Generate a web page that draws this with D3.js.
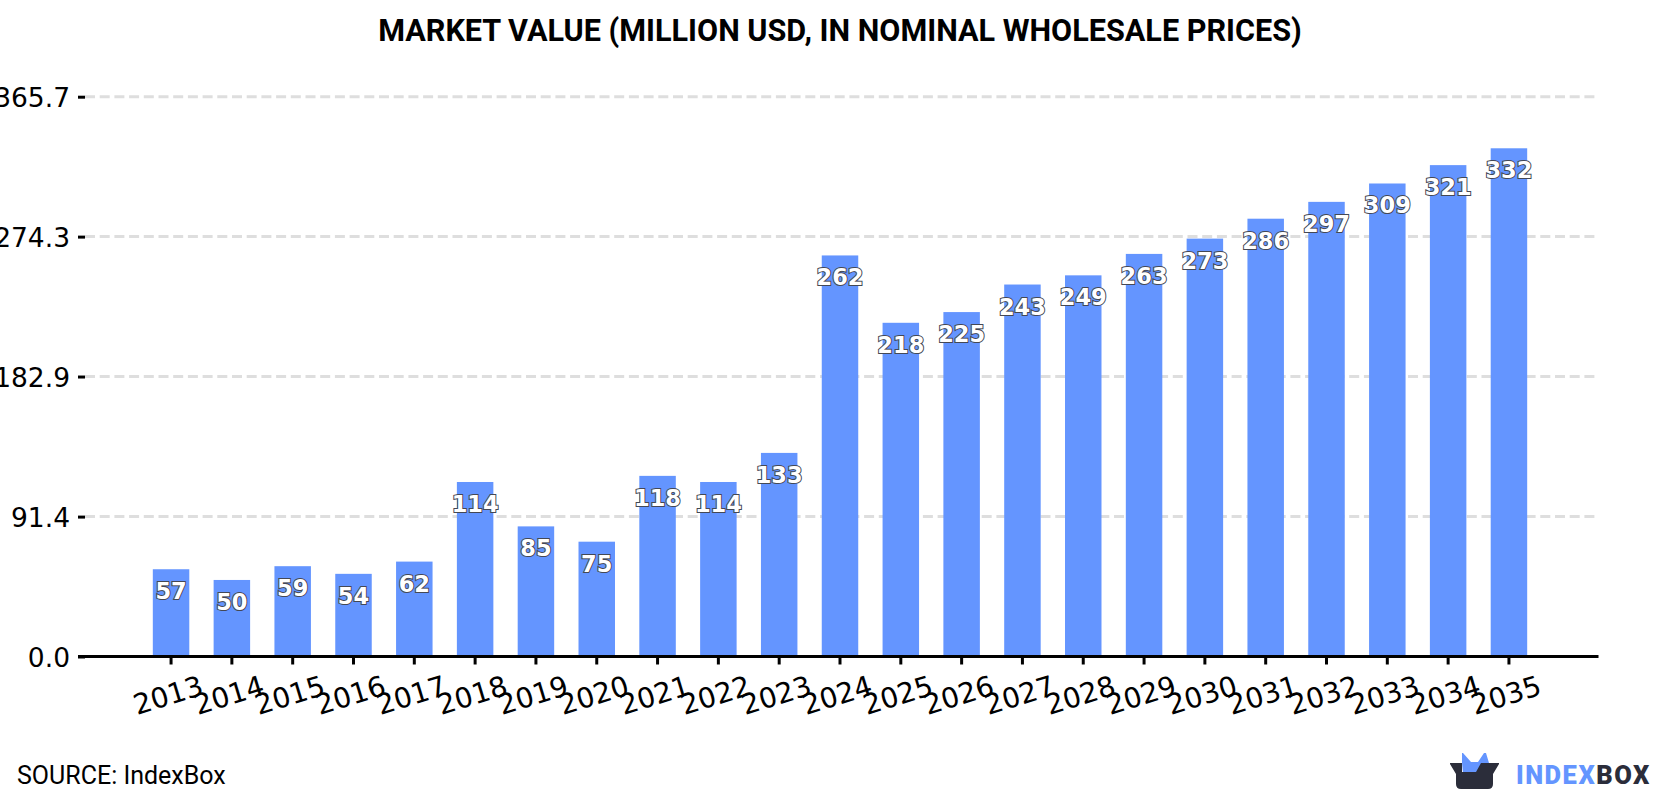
<!DOCTYPE html>
<html>
<head>
<meta charset="utf-8">
<script src="https://cdn.jsdelivr.net/npm/d3@7/dist/d3.min.js"></script>
<style>
html,body{margin:0;padding:0;background:#fff;overflow:hidden}
svg{display:block}
</style>
</head>
<body>
<svg id="chart" width="1680" height="800"></svg>
<script>
const years = ["2013","2014","2015","2016","2017","2018","2019","2020","2021","2022","2023","2024","2025","2026","2027","2028","2029","2030","2031","2032","2033","2034","2035"];
const marketValues = [57,50,59,54,62,114,85,75,118,114,133,262,218,225,243,249,263,273,286,297,309,321,332];
const yTicks = [0,91.4,182.9,274.3,365.7];
const titleText = "MARKET VALUE (MILLION USD, IN NOMINAL WHOLESALE PRICES)";
const sourceText = "SOURCE: IndexBox";

const svg = d3.select("#chart");
const axisLeftX = 78, axisRightX = 1598.5, baseY = 656.5, topY = 96.7;

const x = d3.scaleBand().domain(years).range([92, 1588]).paddingInner(0.4).paddingOuter(1);
const y = d3.scaleLinear().domain([0, 365.7]).range([baseY, topY]);

svg.append("text").attr("x", 840).attr("y", 41)
  .attr("text-anchor", "middle")
  .style("font", "700 30.6px Roboto").style("fill", "#000").text(titleText);

// Horizontal dashed gridlines, skipping the baseline
svg.append("g").selectAll("line").data(yTicks.slice(1)).join("line")
  .attr("x1", axisLeftX + 7).attr("x2", axisRightX)
  .attr("y1", d => y(d)).attr("y2", d => y(d))
  .attr("stroke", "#dedede").attr("stroke-width", 3).attr("stroke-dasharray", "10 4.7");

// Bars
svg.append("g").selectAll("rect").data(marketValues).join("rect")
  .attr("x", (d, i) => x(years[i]))
  .attr("width", x.bandwidth())
  .attr("y", d => y(d))
  .attr("height", d => baseY - y(d))
  .attr("fill", "#6495ff");

// Y axis
const yAxis = svg.append("g").attr("transform", `translate(${axisLeftX + 7},0)`)
  .call(d3.axisLeft(y).tickValues(yTicks).tickFormat(d3.format(".1f")).tickSize(7).tickPadding(8));
yAxis.select(".domain").remove();
yAxis.selectAll("line").attr("stroke", "#000").attr("stroke-width", 3);
yAxis.selectAll("text").style("font", "26.5px 'DejaVu Sans'").style("fill", "#000").attr("dy", "0.36em");

// X axis
const xAxis = svg.append("g").attr("transform", `translate(0,${baseY})`)
  .call(d3.axisBottom(x).tickSize(8).tickSizeOuter(0));
xAxis.select(".domain").remove();
xAxis.selectAll("line").attr("stroke", "#000").attr("stroke-width", 3);
xAxis.selectAll("text")
  .style("font", "28px 'DejaVu Sans'").style("fill", "#000")
  .attr("text-anchor", "middle")
  .attr("y", 0).attr("dy", 0)
  .attr("transform", "translate(0,48) rotate(-17)");
svg.append("line").attr("x1", axisLeftX).attr("x2", axisRightX)
  .attr("y1", baseY).attr("y2", baseY)
  .attr("stroke", "#000").attr("stroke-width", 3);

// Value labels inside the bars
svg.append("g").selectAll("text").data(marketValues).join("text")
  .attr("x", (d, i) => x(years[i]) + x.bandwidth() / 2)
  .attr("y", d => y(d) + 30)
  .attr("text-anchor", "middle")
  .style("font", "700 22.5px 'DejaVu Sans'")
  .style("fill", "#fff")
  .style("stroke", "#444854").style("stroke-width", 2).style("paint-order", "stroke")
  .text(d => d);

svg.append("text").attr("x", 17).attr("y", 784)
  .style("font", "25px Roboto").style("fill", "#000").text(sourceText);

// Brand mark: open box with a blue crown
const logo = svg.append("g").attr("transform", "translate(1450,753)");
logo.append("path").attr("fill", "#6495ff")
  .attr("d", "M12 0 L13 -0 L21 9 L28 9 L34 0 L36 0 L39 10 L39 20 L13 20 L12 10 Z");
logo.append("path").attr("fill", "#2b2d3a")
  .attr("d", "M0 10 L12 10 L12 19 L26 19 L31 10 L49 10 L49 11 L43 21 L43 31 Q43 36 38 36 L11 36 Q6 36 6 31 L6 21 L0 11 Z");
svg.append("text").attr("x", 1516).attr("y", 784)
  .style("font", "900 25.5px Roboto").style("letter-spacing", "1.5px")
  .call(t => {
    t.append("tspan").attr("fill", "#6495ff").text("INDEX");
    t.append("tspan").attr("fill", "#2b2d3a").text("BOX");
  });
</script>
</body>
</html>
